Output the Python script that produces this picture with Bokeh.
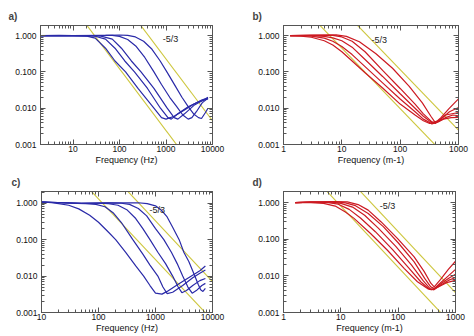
from bokeh.plotting import figure
from bokeh.layouts import column, row
from bokeh.models import Range1d, FixedTicker, PrintfTickFormatter, CustomJSTickFormatter, LogAxis, Label
from bokeh.embed import file_html
from bokeh.resources import INLINE

# ---------------- panel a (blue, Hz) ----------------
A_F = [
    [2, 5, 10, 20, 30, 50, 80, 135, 250, 550, 800, 1000, 1500, 2500, 4000, 6000, 8000],
    [2, 10, 20, 30, 50, 80, 130, 210, 400, 760, 1100, 1300, 1800, 3000, 5000, 8000],
    [2, 10, 25, 40, 70, 110, 180, 290, 550, 1060, 1500, 1800, 2500, 4000, 6000, 8000],
    [2, 10, 40, 70, 100, 150, 230, 350, 550, 800, 1200, 1700, 2300, 3000, 3600, 4500, 6000, 8000],
    [2, 10, 50, 100, 150, 220, 330, 500, 750, 1100, 1600, 2200, 3000, 4000, 5000, 5800, 7000, 8000],
]
A_Y = [
    [1.0, 1.01, 1.0, 0.97, 0.85, 0.45, 0.2, 0.1, 0.035, 0.01, 0.0055, 0.005, 0.006, 0.009, 0.013, 0.017, 0.019],
    [1.0, 1.0, 0.99, 0.96, 0.8, 0.45, 0.2, 0.1, 0.035, 0.01, 0.0055, 0.005, 0.007, 0.011, 0.015, 0.018],
    [1.0, 1.0, 1.0, 0.97, 0.8, 0.45, 0.2, 0.1, 0.035, 0.01, 0.0055, 0.005, 0.007, 0.012, 0.016, 0.02],
    [1.0, 1.0, 1.02, 1.02, 0.95, 0.78, 0.5, 0.25, 0.1, 0.045, 0.02, 0.011, 0.0065, 0.005, 0.0055, 0.008, 0.014, 0.019],
    [1.0, 1.0, 1.02, 1.04, 1.02, 0.92, 0.7, 0.42, 0.2, 0.09, 0.04, 0.02, 0.011, 0.0068, 0.0055, 0.0052, 0.0075, 0.01],
]
A_REF_X = [2, 10000]
A_REF_Y = [[96.0, 4.8e-5], [8990.0, 0.0045]]
A_SLOPE_POS = (1250, 0.83)

# ---------------- panel b (red, m-1) ----------------
B_F = [
    [1.3, 2, 3, 5, 7, 10, 15, 25, 50, 100, 180, 250, 320, 400, 550, 750, 1000],
    [1.3, 2, 3, 5, 7, 10, 15, 25, 50, 100, 180, 250, 350, 450, 600, 800, 1000],
    [1.3, 3, 5, 7, 10, 15, 25, 50, 100, 180, 250, 350, 450, 600, 1000],
    [1.3, 3, 7, 10, 15, 25, 50, 100, 180, 250, 350, 400, 500, 700, 1000],
    [1.3, 3, 8, 12, 20, 38, 74, 143, 240, 336, 400, 500, 700, 1000],
]
B_Y = [
    [1.0, 0.97, 0.9, 0.72, 0.55, 0.36, 0.2, 0.095, 0.036, 0.013, 0.0065, 0.0045, 0.0038, 0.004, 0.005, 0.0055, 0.0056],
    [1.0, 1.0, 0.97, 0.85, 0.7, 0.5, 0.3, 0.14, 0.05, 0.018, 0.008, 0.005, 0.0037, 0.0042, 0.0055, 0.0065, 0.0062],
    [1.0, 1.0, 0.95, 0.87, 0.72, 0.48, 0.22, 0.075, 0.025, 0.01, 0.006, 0.004, 0.0045, 0.0065, 0.0076],
    [1.0, 1.02, 1.02, 0.92, 0.7, 0.36, 0.11, 0.035, 0.013, 0.007, 0.0042, 0.0038, 0.005, 0.008, 0.0105],
    [1.0, 1.03, 1.05, 0.95, 0.68, 0.32, 0.126, 0.04, 0.014, 0.006, 0.004, 0.0055, 0.01, 0.018],
]
B_REF_X = [1, 1000]
B_REF_Y = [[21.0, 2.1e-4], [249.0, 0.00249]]
B_SLOPE_POS = (44, 0.77)

# ---------------- panel c (blue, Hz) ----------------
C_F = [
    [10, 15, 20, 30, 45, 70, 100, 150, 200, 300, 450, 620, 800, 1000, 1300, 1600, 2500, 4000, 6000, 7500],
    [10, 30, 60, 90, 130, 180, 250, 400, 600, 800, 1100, 1350, 1600, 2000, 3000, 4500, 6000, 7500],
    [10, 50, 100, 150, 220, 320, 450, 600, 800, 1100, 1500, 2000, 2500, 2900, 3500, 4500, 6000, 7500],
    [10, 50, 150, 250, 350, 500, 700, 1000, 1400, 1900, 2400, 3000, 3700, 4400, 5200, 6500, 7500],
    [10, 50, 200, 500, 714, 1000, 1300, 1600, 2000, 2600, 3140, 3840, 4900, 5600, 6200, 6800, 7500],
]
C_Y = [
    [1.08, 1.03, 0.98, 0.88, 0.7, 0.47, 0.3, 0.16, 0.1, 0.045, 0.019, 0.01, 0.0055, 0.0034, 0.0032, 0.0038, 0.006, 0.0095, 0.014, 0.019],
    [1.08, 1.0, 0.97, 0.93, 0.8, 0.55, 0.3, 0.1, 0.04, 0.02, 0.01, 0.005, 0.0033, 0.0036, 0.0055, 0.009, 0.012, 0.0146],
    [1.08, 1.0, 1.0, 0.97, 0.88, 0.65, 0.38, 0.2, 0.1, 0.045, 0.022, 0.01, 0.005, 0.0035, 0.004, 0.0055, 0.0075, 0.0086],
    [1.08, 1.0, 1.02, 1.0, 0.93, 0.72, 0.45, 0.2, 0.1, 0.045, 0.022, 0.01, 0.005, 0.0034, 0.004, 0.0055, 0.0063],
    [1.08, 1.0, 1.02, 1.03, 0.98, 0.85, 0.62, 0.42, 0.22, 0.1, 0.045, 0.025, 0.01, 0.006, 0.0042, 0.0038, 0.0046],
]
C_REF_X = [10, 10000]
C_REF_Y = [[61.0, 6.1e-4], [707.0, 0.00707]]
C_SLOPE_POS = (1070, 0.65)

# ---------------- panel d (red, m-1) ----------------
D_F = [
    [1.6, 3, 5, 8, 12, 17, 33, 65, 127, 217, 325, 380, 500, 700, 1000],
    [1.6, 3, 6, 9, 14, 22, 40, 80, 150, 250, 350, 420, 550, 750, 1000],
    [1.6, 3, 7, 10, 16, 26, 45, 90, 170, 270, 360, 420, 550, 750, 1000],
    [1.6, 3, 8, 12, 18, 30, 55, 100, 190, 290, 370, 430, 550, 750, 1000],
    [1.6, 3, 8, 13, 20, 30, 50, 97, 190, 285, 371, 425, 550, 750, 1000],
]
D_Y = [
    [1.0, 1.0, 0.95, 0.8, 0.55, 0.37, 0.143, 0.05, 0.016, 0.0069, 0.0045, 0.0042, 0.005, 0.0065, 0.0075],
    [1.0, 1.02, 1.0, 0.9, 0.65, 0.38, 0.16, 0.052, 0.017, 0.0068, 0.0043, 0.0042, 0.0055, 0.0075, 0.009],
    [1.0, 1.03, 1.03, 0.95, 0.75, 0.45, 0.2, 0.065, 0.02, 0.0075, 0.0045, 0.0042, 0.006, 0.0085, 0.011],
    [1.0, 1.03, 1.05, 0.98, 0.82, 0.5, 0.22, 0.08, 0.024, 0.0085, 0.005, 0.0045, 0.0065, 0.01, 0.015],
    [1.0, 1.03, 1.06, 1.04, 0.88, 0.62, 0.3, 0.105, 0.033, 0.013, 0.0063, 0.005, 0.008, 0.015, 0.025],
]
D_REF_X = [1, 1000]
D_REF_Y = [[37.0, 3.7e-4], [347.0, 0.00347]]
D_SLOPE_POS = (65, 0.81)

AXIS_COL = "#555555"
YELLOW = "#cdc63c"
BLUE = "#2a2aa8"
RED = "#cc1a22"
FONT = "Liberation Sans"


def decade_ticks(lo, hi):
    major, minor = [], []
    e = -4
    while 10 ** e <= hi * 10:
        d = 10 ** e
        if lo <= d <= hi:
            major.append(d)
        for k in range(2, 10):
            v = k * d
            if lo <= v <= hi:
                minor.append(v)
        e += 1
    return major, minor


def style(ax):
    ax.major_tick_in = 5
    ax.major_tick_out = 0
    ax.minor_tick_in = 3
    ax.minor_tick_out = 0
    ax.axis_line_color = AXIS_COL
    ax.major_tick_line_color = AXIS_COL
    ax.minor_tick_line_color = AXIS_COL
    ax.major_label_text_font = FONT
    ax.major_label_text_font_size = "8.5px"
    ax.major_label_text_color = "#111111"


def panel(tag, xr, yr, F, Y, color, ref_x, ref_y, slope_pos, xlabel, borders, toff):
    left, right, top, bottom = borders
    p = figure(width=237, height=168, x_axis_type="log", y_axis_type="log",
               x_range=Range1d(*xr), y_range=Range1d(*yr),
               output_backend="svg", toolbar_location=None,
               min_border_left=left, min_border_right=right,
               min_border_top=top, min_border_bottom=bottom,
               background_fill_color="white", border_fill_color="white")
    p.xgrid.visible = False
    p.ygrid.visible = False
    p.outline_line_color = AXIS_COL

    xmaj, xmin = decade_ticks(*xr)
    ymaj, ymin = decade_ticks(*yr)

    xa = p.below[0]
    ya = p.left[0]
    xa.ticker = FixedTicker(ticks=xmaj, minor_ticks=xmin)
    ya.ticker = FixedTicker(ticks=ymaj, minor_ticks=ymin)
    xa.formatter = PrintfTickFormatter(format="%d")
    ya.formatter = PrintfTickFormatter(format="%.3f")
    style(xa)
    style(ya)
    xa.major_label_standoff = 1
    ya.major_label_standoff = 4
    xa.axis_label = xlabel
    xa.axis_label_standoff = 0
    xa.axis_label_text_font = FONT
    xa.axis_label_text_font_size = "9px"
    xa.axis_label_text_font_style = "normal"
    xa.axis_label_text_color = "#111111"

    blank = "return ''"
    ra = LogAxis(ticker=FixedTicker(ticks=ymaj, minor_ticks=ymin),
                 formatter=CustomJSTickFormatter(code=blank))
    ta = LogAxis(ticker=FixedTicker(ticks=xmaj, minor_ticks=xmin),
                 formatter=CustomJSTickFormatter(code=blank))
    for ax in (ra, ta):
        style(ax)
        ax.major_label_standoff = 0
    p.add_layout(ra, "right")
    p.add_layout(ta, "above")

    for ry in ref_y:
        p.line(ref_x, ry, line_color=YELLOW, line_width=1.1)
    for fx, fy in zip(F, Y):
        p.line(fx, fy, line_color=color, line_width=1.2)

    p.add_layout(Label(x=slope_pos[0], y=slope_pos[1], text="-5/3",
                       text_font=FONT, text_font_size="9px", text_color="#222222",
                       text_align="center", text_baseline="middle"))

    p.title.text = tag
    p.title.align = "left"
    p.title.offset = toff
    p.title.standoff = 8
    p.title.text_font = FONT
    p.title.text_font_size = "10px"
    p.title.text_font_style = "bold"
    return p


pa = panel("a)", (2, 10000), (0.001, 1.9), A_F, A_Y, BLUE, A_REF_X, A_REF_Y, A_SLOPE_POS,
           "Frequency (Hz)", (40, 25, 23, 24), -32)
pb = panel("b)", (1, 1000), (0.001, 1.9), B_F, B_Y, RED, B_REF_X, B_REF_Y, B_SLOPE_POS,
           "Frequency (m-1)", (46, 16, 25, 24), -31)
pc = panel("c)", (10, 10000), (0.001, 2.1), C_F, C_Y, BLUE, C_REF_X, C_REF_Y, C_SLOPE_POS,
           "Frequency (Hz)", (41, 25, 23, 24), -30)
pd = panel("d)", (1, 1000), (0.001, 2.0), D_F, D_Y, RED, D_REF_X, D_REF_Y, D_SLOPE_POS,
           "Frequency (m-1)", (46, 19, 23, 24), -31)

layout = column(row(pa, pb), row(pc, pd))
open("out.html", "w").write(file_html(layout, INLINE))
